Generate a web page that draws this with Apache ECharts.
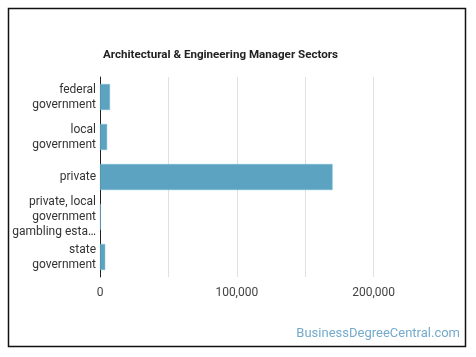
<!DOCTYPE html>
<html><head><meta charset="utf-8">
<script src="https://cdn.jsdelivr.net/npm/echarts@6/dist/echarts.min.js"></script>
<style>html,body{margin:0;padding:0;background:#fff}#c{width:476px;height:357px}</style>
</head><body><div id="c"></div>
<script>
const categories = ["federal government","local government","private","private, local government gambling establishments","state government"];
const displayLabels = ["federal\ngovernment","local\ngovernment","private","private, local\ngovernment\ngambling esta\u2026","state\ngovernment"];
const values = [7300, 5200, 170000, 600, 3800];
const tickLabels = {0:"0",100000:"100,000",200000:"200,000"};

const chart = echarts.init(document.getElementById('c'));
chart.setOption({
  animation:false,
  title:{text:"Architectural & Engineering Manager Sectors",left:98,top:44,
    textStyle:{fontFamily:"Roboto",fontSize:11.6,fontWeight:"bold",color:"#222"}},
  grid:{left:100,right:34,top:77,bottom:80,containLabel:false},
  xAxis:{type:"value",min:0,max:250000,interval:50000,
    axisLine:{show:false},axisTick:{show:false},
    splitLine:{show:true,showMaxLine:false,lineStyle:{color:"#e0e0e0",width:1}},
    axisLabel:{fontFamily:"Roboto",fontSize:12,color:"#444",margin:10,
      formatter:v=>tickLabels[v]!==undefined?tickLabels[v]:""}},
  yAxis:{type:"category",inverse:true,data:categories,
    axisLine:{show:true,lineStyle:{color:"#222",width:1}},axisTick:{show:false},
    axisLabel:{fontFamily:"Roboto",fontSize:12,color:"#333",lineHeight:15,margin:4,
      formatter:(v,i)=>displayLabels[i]}},
  series:[{type:"bar",data:values,barCategoryGap:"35%",
    itemStyle:{color:"#5ba3c1",borderColor:"#7bb8d0",borderWidth:0.5}}],
  graphic:[
    {type:"rect",shape:{x:8.5,y:8.5,width:457,height:338},style:{fill:null,stroke:"#111",lineWidth:1.5},silent:true},
    {type:"text",right:16,top:327,style:{text:"BusinessDegreeCentral.com",fontFamily:"Roboto",fontSize:13,fill:"#74aacb"}}
  ]
});
</script></body></html>
